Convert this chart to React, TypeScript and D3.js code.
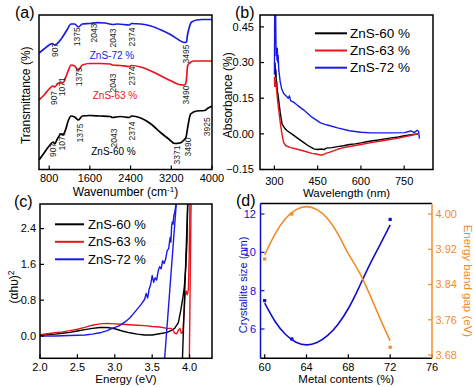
import * as d3 from "d3";

type Pt = [number, number];

const FONT = "'Liberation Sans', Arial, Helvetica, sans-serif";

const sampleNames = ["ZnS-60 %", "ZnS-63 %", "ZnS-72 %"];
const sampleColors = ["#000000", "#e8141b", "#1a1ae6"];

// (a) FTIR spectra, transmittance in arbitrary (offset) units
const ftir60: Pt[] = [
  [600, 10], [700, 17], [800, 24], [880, 28], [907, 26], [960, 31], [1030, 36], [1071, 35],
  [1120, 40], [1180, 50], [1230, 54], [1300, 53], [1375, 50], [1450, 54], [1600, 54.5],
  [1800, 54], [2000, 53.5], [2043, 52.5], [2200, 53.5], [2374, 52.5], [2420, 54], [2600, 52],
  [2800, 46], [3000, 37], [3150, 31], [3270, 26.5], [3370, 27], [3450, 30], [3490, 33],
  [3530, 45], [3580, 56], [3700, 59], [3850, 59.5], [3925, 62], [4000, 64],
];
const ftir63: Pt[] = [
  [600, 70], [700, 75], [800, 81], [870, 84], [907, 83], [960, 86], [1030, 88], [1071, 87],
  [1120, 92], [1180, 100], [1230, 105], [1300, 104], [1375, 100], [1450, 105], [1600, 106.5],
  [1800, 106.5], [2000, 106], [2043, 105], [2200, 104.5], [2374, 103.5], [2420, 104.5],
  [2600, 103], [2800, 99], [3000, 94], [3200, 89], [3350, 85.5], [3450, 85], [3480, 86],
  [3500, 92], [3520, 104], [3560, 107], [3650, 109], [4000, 109],
];
const ftir72: Pt[] = [
  [600, 117], [700, 121], [800, 125], [860, 126.5], [907, 125], [960, 126.5], [1050, 132],
  [1150, 140], [1230, 146], [1300, 146], [1375, 143], [1450, 146], [1600, 146.5],
  [1750, 147.3], [1900, 147], [2043, 145.5], [2150, 146], [2374, 145], [2420, 146.5],
  [2600, 146], [2800, 144], [3000, 140], [3200, 135], [3350, 130], [3450, 127.5],
  [3500, 128], [3515, 134], [3540, 140], [3600, 148], [3700, 150], [3800, 150.5], [4000, 150.5],
];

// peak labels: text, wavenumber position, transmittance position
const peaks60: [string, number, number][] = [
  ["907", 881, 20], ["1071", 1058, 29], ["1375", 1406, 37], ["2043", 2074, 32],
  ["2374", 2422, 39], ["3371", 3318, 15], ["3490", 3534, 23], ["3925", 3895, 43.3],
];
const peaks63: [string, number, number][] = [
  ["907", 895, 72], ["1071", 1058, 83.3], ["1375", 1392, 93.3], ["2043", 2060, 87],
  ["2374", 2422, 94], ["3490", 3489, 75],
];
const peaks72: [string, number, number][] = [
  ["907", 914, 120], ["1375", 1341, 133.3], ["2043", 1681, 137], ["2043", 2060, 132],
  ["2374", 2422, 133], ["3495", 3489, 116],
];
const ftirNamePos: Pt[] = [[2064, 18.3], [2093, 75], [2034, 115]];

// (b) UV-vis absorbance
const abs60: Pt[] = [
  [302, 0.3], [304, 0.24], [305, 0.27], [307, 0.21], [308, 0.22], [310, 0.18], [312, 0.17],
  [315, 0.14], [318, 0.11], [320, 0.09], [324, 0.06], [327, 0.04], [335, 0.025], [344, 0.013],
  [360, 0], [380, -0.018], [402, -0.037], [420, -0.052], [437, -0.063], [450, -0.066],
  [465, -0.064], [472, -0.066], [480, -0.06], [500, -0.058], [519, -0.054], [540, -0.05],
  [560, -0.045], [580, -0.042], [600, -0.038], [620, -0.033], [635, -0.03], [660, -0.026],
  [700, -0.018], [730, -0.013], [751, -0.008], [775, -0.004], [798, 0],
];
const abs63: Pt[] = [
  [300, 0.24], [301, 0.2], [302, 0.23], [304, 0.2], [305, 0.22], [307, 0.19], [308, 0.18],
  [311, 0.14], [313, 0.12], [315, 0.1], [318, 0.07], [321, 0.04], [326, 0], [332, -0.037],
  [340, -0.05], [356, -0.058], [380, -0.065], [402, -0.072], [430, -0.082], [445, -0.085],
  [460, -0.089], [470, -0.088], [478, -0.082], [490, -0.078], [519, -0.065], [540, -0.058],
  [560, -0.053], [600, -0.045], [635, -0.037], [670, -0.03], [700, -0.024], [730, -0.018],
  [751, -0.012], [775, -0.006], [798, 0],
];
const abs72: Pt[] = [
  [300, 0.25], [301, 0.52], [302, 0.4], [303, 0.38], [304, 0.52], [306, 0.33], [307, 0.36],
  [309, 0.31], [310, 0.36], [312, 0.3], [313, 0.33], [315, 0.27], [317, 0.25], [320, 0.22],
  [325, 0.19], [332, 0.17], [340, 0.16], [348, 0.15], [352, 0.16], [356, 0.14], [370, 0.13],
  [380, 0.12], [402, 0.1], [430, 0.07], [460, 0.046], [475, 0.04], [490, 0.035], [519, 0.025],
  [560, 0.013], [600, 0.007], [635, 0.004], [700, 0.004], [751, 0.005], [773, 0.012],
  [785, 0.005], [795, 0.015], [800, 0.01], [803, -0.02],
];

// (c) Tauc plots with linear extrapolations
const tauc60: Pt[] = [
  [2.0, 0.02], [2.1, 0.03], [2.2, 0.04], [2.3, 0.06], [2.4, 0.08], [2.5, 0.11], [2.6, 0.14],
  [2.7, 0.17], [2.8, 0.19], [2.9, 0.19], [3.0, 0.16], [3.1, 0.11], [3.2, 0.07], [3.3, 0.04],
  [3.4, 0.02], [3.5, 0.02], [3.6, 0.05], [3.7, 0.08], [3.75, 0.12], [3.8, 0.17], [3.85, 0.3],
  [3.88, 0.55], [3.91, 0.85], [3.93, 1.1], [3.95, 1.55], [3.965, 2.1], [3.975, 2.95],
];
const tauc63: Pt[] = [
  [2.0, 0.03], [2.1, 0.05], [2.2, 0.07], [2.3, 0.09], [2.4, 0.12], [2.5, 0.15], [2.6, 0.19],
  [2.7, 0.24], [2.8, 0.27], [2.9, 0.28], [3.0, 0.27], [3.1, 0.26], [3.2, 0.25], [3.3, 0.24],
  [3.4, 0.23], [3.5, 0.21], [3.6, 0.2], [3.7, 0.17], [3.75, 0.17], [3.78, 0.12], [3.8, 0.06],
  [3.83, 0.05], [3.85, 0.13], [3.87, 0.17], [3.89, 0.06], [3.91, 0.08], [3.925, 0.45],
  [3.94, 0.9], [3.955, 1.0], [3.97, 0.92], [3.985, 1.05], [3.995, 1.8], [4.005, 2.95],
];
const tauc72: Pt[] = [
  [2.0, 0], [2.2, 0], [2.4, 0.01], [2.6, 0.02], [2.7, 0.04], [2.8, 0.07], [2.9, 0.12],
  [2.95, 0.16], [3.0, 0.19], [3.05, 0.22], [3.1, 0.27], [3.15, 0.33], [3.2, 0.4], [3.25, 0.5],
  [3.3, 0.6], [3.35, 0.7], [3.4, 0.82], [3.42, 0.95], [3.44, 0.85], [3.46, 1.05], [3.48, 1.15],
  [3.5, 1.35], [3.52, 1.2], [3.54, 1.3], [3.56, 1.25], [3.58, 1.45], [3.6, 1.55], [3.62, 1.5],
  [3.64, 1.68], [3.66, 1.62], [3.68, 1.72], [3.7, 1.9], [3.72, 1.95], [3.74, 2.2], [3.75, 2.1],
  [3.76, 2.45], [3.77, 2.55], [3.78, 2.5], [3.79, 2.7], [3.8, 2.75], [3.81, 2.85], [3.82, 2.95],
];
const taucFit60: Pt[] = [[3.905, -0.5], [3.975, 2.95]];
const taucFit63: Pt[] = [[3.997, -0.5], [4.02, 2.95]];
const taucFit72: Pt[] = [[3.667, -0.5], [3.822, 2.95]];

// (d) crystallite size and band gap vs metal content
const metal = [60, 62.6, 72];
const crystSize = [7.48, 5.48, 11.72];
const bandGap = [3.898, 4.0, 3.6975];
const fitMetal = [60, 61, 62, 63, 64, 65, 66, 67, 68, 69, 70, 71, 72];
const crystFit = [7.35, 6.39, 5.71, 5.31, 5.17, 5.29, 5.65, 6.24, 7.07, 8.15, 9.31, 10.37, 11.43];
const gapFit = [3.907, 3.955, 3.99, 4.01, 4.017, 4.01, 3.99, 3.955, 3.91, 3.87, 3.82, 3.765, 3.712];

const ticksA = [800, 1600, 2400, 3200, 4000];
const ticksBX = [300, 450, 600, 750];
const ticksBY = [-0.15, 0, 0.15, 0.3, 0.45];
const ticksCX = [2.0, 2.5, 3.0, 3.5, 4.0];
const ticksCY = [0, 0.8, 1.6, 2.4];
const ticksDX = [60, 64, 68, 72, 76];
const ticksDL = [6, 8, 10, 12];
const ticksDR = [3.68, 3.76, 3.84, 3.92, 4.0];

const BLUE_D = "#1010c8";
const ORANGE = "#f28c28";

const A = { l: 39, t: 15, r: 212, b: 169.5 };
const B = { l: 260, t: 15, r: 433, b: 169.5 };
const C = { l: 40, t: 204, r: 212, b: 358.3 };
const D = { l: 260.5, t: 203.5, r: 432, b: 358.3 };

type Box = typeof A;

function Clip({ box, id }: { box: Box; id: string }) {
  return (
    <clipPath id={id}>
      <rect x={box.l} y={box.t} width={box.r - box.l} height={box.b - box.t} />
    </clipPath>
  );
}

function Border({ box }: { box: Box }) {
  return (
    <rect x={box.l} y={box.t} width={box.r - box.l} height={box.b - box.t}
      fill="none" stroke="#000" strokeWidth={1.5} />
  );
}

export default function App() {
  const xA = d3.scaleLinear([600, 4000], [A.l, A.r]);
  const yA = d3.scaleLinear([0, 155], [170, 15]);
  const xB = d3.scaleLinear([250, 850], [B.l, B.r]);
  const yB = d3.scaleLinear([-0.15, 0.5], [B.b, B.t]);
  const xC = d3.scaleLinear([2.0, 4.3], [C.l, C.r]);
  const yC = d3.scaleLinear([-0.5, 2.95], [C.b, C.t]);
  const xD = d3.scaleLinear([59.6, 76], [D.l, D.r]);
  const yDL = d3.scaleLinear([4.47, 12.55], [D.b, D.t]);
  const yDR = d3.scaleLinear([3.6725, 4.024], [D.b, D.t]);

  const lineA = d3.line<Pt>().x((d) => xA(d[0])).y((d) => yA(d[1])).curve(d3.curveMonotoneX);
  const lineB = d3.line<Pt>().x((d) => xB(d[0])).y((d) => yB(d[1]));
  const lineC = d3.line<Pt>().x((d) => xC(d[0])).y((d) => yC(d[1]));
  const lineDL = d3.line<number>().x((d) => xD(d)).y((_, i) => yDL(crystFit[i])).curve(d3.curveNatural);
  const lineDR = d3.line<number>().x((d) => xD(d)).y((_, i) => yDR(gapFit[i])).curve(d3.curveNatural);

  const ftir = [ftir60, ftir63, ftir72];
  const peaks = [peaks60, peaks63, peaks72];
  const absData = [abs60, abs63, abs72];
  const tauc = [tauc60, tauc63, tauc72];
  const taucFit = [taucFit60, taucFit63, taucFit72];

  const f2 = d3.format(".2f");
  const f1 = d3.format(".1f");
  const tick = 4;

  return (
    <svg width={474} height={387} style={{ position: "absolute", left: 0, top: 0, background: "#fff" }}
      fontFamily={FONT}>
      <defs>
        <Clip box={A} id="clipA" />
        <Clip box={B} id="clipB" />
        <Clip box={C} id="clipC" />
        <Clip box={D} id="clipD" />
      </defs>
      <rect width={474} height={387} fill="#fff" />

      {/* (a) */}
      <g clipPath="url(#clipA)">
        {ftir.map((s, i) => (
          <path key={i} d={lineA(s) || ""} fill="none" stroke={sampleColors[i]} strokeWidth={1.7} />
        ))}
      </g>
      {peaks.map((p, i) =>
        p.map(([t, wn, v], j) => (
          <text key={`${i}-${j}`} transform={`translate(${xA(wn)},${yA(v)}) rotate(-90)`}
            textAnchor="middle" dy="0.35em" fontSize={8.5} fill="#222">{t}</text>
        ))
      )}
      {ftirNamePos.map(([wn, v], i) => (
        <text key={i} x={xA(wn)} y={yA(v)} dy="0.35em" textAnchor="middle" fontSize={10}
          fill={sampleColors[i]}>{sampleNames[i]}</text>
      ))}
      {ticksA.map((t) => (
        <g key={t}>
          <line x1={xA(t)} x2={xA(t)} y1={A.b} y2={A.b - tick} stroke="#000" strokeWidth={1.2} />
          <text x={xA(t)} y={181.5} textAnchor="middle" fontSize={11}>{t}</text>
        </g>
      ))}
      <Border box={A} />
      <text x={125.5} y={196} textAnchor="middle" fontSize={12}>
        Wavenumber (cm<tspan dy={-4.5} fontSize={8}>-1</tspan><tspan dy={4.5}>)</tspan>
      </text>
      <text transform={`translate(26,${(A.t + A.b) / 2 + 3}) rotate(-90)`} textAnchor="middle"
        dy="0.35em" fontSize={12}>Transmittance (%)</text>
      <text x={15} y={18} fontSize={16}>(a)</text>

      {/* (b) */}
      <g clipPath="url(#clipB)">
        {absData.map((s, i) => (
          <path key={i} d={lineB(s) || ""} fill="none" stroke={sampleColors[i]} strokeWidth={1.4}
            strokeLinejoin="round" />
        ))}
      </g>
      {ticksBX.map((t) => (
        <g key={t}>
          <line x1={xB(t)} x2={xB(t)} y1={B.b} y2={B.b - tick} stroke="#000" strokeWidth={1.2} />
          <text x={xB(t)} y={184.5} textAnchor="middle" fontSize={11}>{t}</text>
        </g>
      ))}
      {ticksBY.map((t) => (
        <g key={t}>
          <line x1={B.l} x2={B.l + tick} y1={yB(t)} y2={yB(t)} stroke="#000" strokeWidth={1.2} />
          <text x={254} y={yB(t)} dy="0.35em" textAnchor="end" fontSize={11}>{f2(t)}</text>
        </g>
      ))}
      <Border box={B} />
      <text x={(B.l + B.r) / 2} y={197} textAnchor="middle" fontSize={11.5}>Wavelength (nm)</text>
      <text transform={`translate(228,${(B.t + B.b) / 2 + 3}) rotate(-90)`} textAnchor="middle"
        dy="0.35em" fontSize={12}>Absorbance (%)</text>
      <text x={235} y={18} fontSize={16}>(b)</text>
      {sampleNames.map((n, i) => (
        <g key={n}>
          <line x1={315} x2={347} y1={33.3 + i * 17.2} y2={33.3 + i * 17.2}
            stroke={sampleColors[i]} strokeWidth={2} />
          <text x={350} y={33.3 + i * 17.2} dy="0.35em" fontSize={13.5}>{n}</text>
        </g>
      ))}

      {/* (c) */}
      <g clipPath="url(#clipC)">
        {tauc.map((s, i) => (
          <path key={i} d={lineC(s) || ""} fill="none" stroke={sampleColors[i]} strokeWidth={1.4}
            strokeLinejoin="round" />
        ))}
        {taucFit.map((s, i) => (
          <path key={`f${i}`} d={lineC(s) || ""} fill="none" stroke={sampleColors[i]} strokeWidth={1.4} />
        ))}
      </g>
      {ticksCX.map((t) => (
        <g key={t}>
          <line x1={xC(t)} x2={xC(t)} y1={C.b} y2={C.b - tick} stroke="#000" strokeWidth={1.2} />
          <text x={xC(t)} y={370.5} textAnchor="middle" fontSize={11}>{f1(t)}</text>
        </g>
      ))}
      {ticksCY.map((t) => (
        <g key={t}>
          <line x1={C.l} x2={C.l + tick} y1={yC(t)} y2={yC(t)} stroke="#000" strokeWidth={1.2} />
          <text x={36} y={yC(t)} dy="0.35em" textAnchor="end" fontSize={11}>{f1(t)}</text>
        </g>
      ))}
      <Border box={C} />
      <text x={(C.l + C.r) / 2} y={382.5} textAnchor="middle" fontSize={11.5}>Energy (eV)</text>
      <text transform={`translate(14,287) rotate(-90)`} textAnchor="middle" dy="0.35em" fontSize={12}>
        (αhυ)<tspan dy={-4.5} fontSize={8.5}>2</tspan>
      </text>
      <text x={14} y={207} fontSize={16}>(c)</text>
      {sampleNames.map((n, i) => (
        <g key={n}>
          <line x1={55} x2={84} y1={224.3 + i * 17.5} y2={224.3 + i * 17.5}
            stroke={sampleColors[i]} strokeWidth={2} />
          <text x={88} y={224.3 + i * 17.5} dy="0.35em" fontSize={13}>{n}</text>
        </g>
      ))}

      {/* (d) */}
      <g clipPath="url(#clipD)">
        <path d={lineDL(fitMetal) || ""} fill="none" stroke={BLUE_D} strokeWidth={1.6} />
        <path d={lineDR(fitMetal) || ""} fill="none" stroke={ORANGE} strokeWidth={1.6} />
        {metal.map((m, i) => (
          <g key={m}>
            <rect x={xD(m) - 1.6} y={yDL(crystSize[i]) - 1.6} width={3.2} height={3.2} fill={BLUE_D} />
            <rect x={xD(m) - 1.6} y={yDR(bandGap[i]) - 1.6} width={3.2} height={3.2} fill={ORANGE} />
          </g>
        ))}
      </g>
      {ticksDX.map((t) => (
        <g key={t}>
          <line x1={xD(t)} x2={xD(t)} y1={D.b} y2={D.b - tick} stroke="#000" strokeWidth={1.2} />
          <text x={xD(t)} y={370.5} textAnchor="middle" fontSize={11}>{t}</text>
        </g>
      ))}
      <line x1={D.l} x2={D.r} y1={D.t} y2={D.t} stroke="#000" strokeWidth={1.5} />
      <line x1={D.l} x2={D.r} y1={D.b} y2={D.b} stroke="#000" strokeWidth={1.5} />
      <line x1={D.l} x2={D.l} y1={D.t} y2={D.b} stroke={BLUE_D} strokeWidth={1.5} />
      <line x1={D.r} x2={D.r} y1={D.t} y2={D.b} stroke={ORANGE} strokeWidth={1.5} />
      {ticksDL.map((t) => (
        <g key={t}>
          <line x1={D.l} x2={D.l + tick} y1={yDL(t)} y2={yDL(t)} stroke={BLUE_D} strokeWidth={1.2} />
          <text x={256} y={yDL(t)} dy="0.35em" textAnchor="end" fontSize={11} fill={BLUE_D}>{t}</text>
        </g>
      ))}
      {ticksDR.map((t) => (
        <g key={t}>
          <line x1={D.r} x2={D.r - tick} y1={yDR(t)} y2={yDR(t)} stroke={ORANGE} strokeWidth={1.2} />
          <text x={435.5} y={yDR(t)} dy="0.35em" textAnchor="start" fontSize={11} fill={ORANGE}>{f2(t)}</text>
        </g>
      ))}
      <text x={(D.l + D.r) / 2} y={382.5} textAnchor="middle" fontSize={11.5}>Metal contents (%)</text>
      <text transform={`translate(243,${(D.t + D.b) / 2 + 4}) rotate(-90)`} textAnchor="middle"
        dy="0.35em" fontSize={11} fill={BLUE_D}>Crystallite size (nm)</text>
      <text transform={`translate(468,${(D.t + D.b) / 2}) rotate(90)`} textAnchor="middle"
        dy="0.35em" fontSize={11.5} fill={ORANGE}>Energy band gap (eV)</text>
      <text x={236} y={206} fontSize={16}>(d)</text>
    </svg>
  );
}
